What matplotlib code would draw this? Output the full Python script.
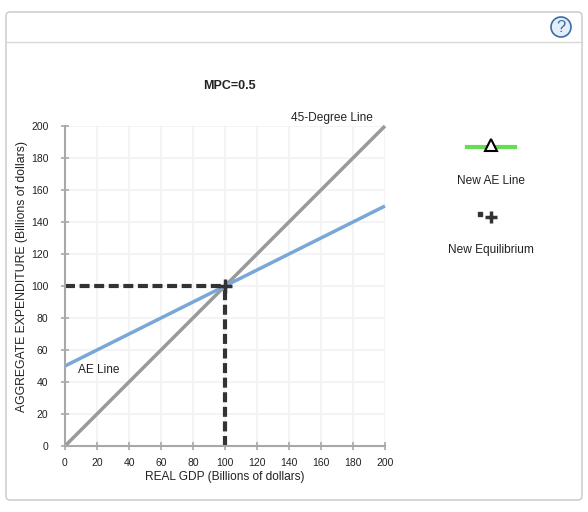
import matplotlib
matplotlib.use("Agg")
import matplotlib.pyplot as plt
from matplotlib.patches import FancyBboxPatch, Circle

plt.rcParams["font.family"] = ["Liberation Sans", "DejaVu Sans"]

# Data
gdp_45 = [0, 200]
ae_45 = [0, 200]
gdp_ae = [0, 200]
ae_vals = [50, 150]
eq_x = 100
eq_y = 100
x_ticks = [0, 20, 40, 60, 80, 100, 120, 140, 160, 180, 200]
y_ticks = [0, 20, 40, 60, 80, 100, 120, 140, 160, 180, 200]

W, H = 588, 512
fig = plt.figure(figsize=(W / 100, H / 100), dpi=100)
fig.patch.set_facecolor("white")

# background axes in pixel coordinates
bg = fig.add_axes([0, 0, 1, 1], zorder=-10)
bg.set_xlim(0, W)
bg.set_ylim(H, 0)
bg.axis("off")
bg.add_patch(FancyBboxPatch((6, 12), 576, 488,
                            boxstyle="round,pad=0,rounding_size=4",
                            facecolor="white", edgecolor="#c8c8c8", linewidth=1))
bg.plot([6, 582], [42, 42], color="#d8d8d8", lw=1)
bg.add_patch(Circle((561, 27), 10, facecolor="#e4eef8", edgecolor="#3a6ea5", lw=1.2))
bg.text(561, 27.5, "?", ha="center", va="center", fontsize=12,
        color="#3a6ea5")
bg.text(229, 86, "MPC=0.5", fontsize=9, fontweight="bold",
        ha="center", va="center", color="#222222")

# legend-like palette
bg.plot([467, 515], [147, 147], color="#66dd55", lw=3)
bg.plot([491], [145], marker="^", markersize=8, markerfacecolor="white",
        markeredgecolor="black", mew=1.5, lw=0)
bg.text(491, 181, "New AE Line", fontsize=8.6, ha="center", va="center", color="#222222")
bg.plot([491], [217], marker="+", markersize=9, color="#333333", mew=2.5, lw=0)
bg.plot([480], [214], marker="s", markersize=2.2, color="#333333", lw=0)
bg.text(491, 250, "New Equilibrium", fontsize=8.6, ha="center", va="center", color="#222222")

ax = fig.add_axes([65 / W, 1 - 446 / H, 320 / W, 320 / H])
ax.set_facecolor("none")
ax.set_xlim(0, 200)
ax.set_ylim(0, 200)
ax.set_xticks(x_ticks)
ax.set_yticks(y_ticks)
ax.grid(True, color="#f2f2f2", lw=1.2)
ax.set_axisbelow(True)
for s in ["top", "right"]:
    ax.spines[s].set_visible(False)
for s in ["left", "bottom"]:
    ax.spines[s].set_color("#a8a8a8")
    ax.spines[s].set_linewidth(1.5)
ax.tick_params(direction="inout", length=6, width=1.2, color="#a8a8a8",
               labelsize=7.5, labelcolor="#222222", pad=6)
ax.tick_params(axis="y", pad=9)

ax.plot(gdp_45, ae_45, color="#999999", lw=2.5, solid_capstyle="butt", clip_on=False)
ax.plot(gdp_ae, ae_vals, color="#7aa7d8", lw=2.5, solid_capstyle="butt", clip_on=False)
ax.plot([0, eq_x], [eq_y, eq_y], color="#333333", lw=3, dashes=(2.4, 1.1), clip_on=False)
ax.plot([eq_x, eq_x], [0, eq_y], color="#333333", lw=3, dashes=(2.4, 1.1), clip_on=False)
ax.plot([eq_x], [eq_y], marker="+", color="#333333", markersize=10, mew=2.5, clip_on=False)

ax.text(8, 51.5, "AE Line", fontsize=8.6, va="top", ha="left", color="#222222")
ax.text(192.5, 201, "45-Degree Line", fontsize=8.6, va="bottom", ha="right", color="#222222")

ax.set_xlabel("REAL GDP (Billions of dollars)", fontsize=8.6, color="#222222", labelpad=2)
ax.set_ylabel("AGGREGATE EXPENDITURE (Billions of dollars)", fontsize=8.8,
              color="#222222")
ax.yaxis.set_label_coords(-37 / 320, (446 - 276) / 320)

fig.savefig("out.png", dpi=100, facecolor="white")
